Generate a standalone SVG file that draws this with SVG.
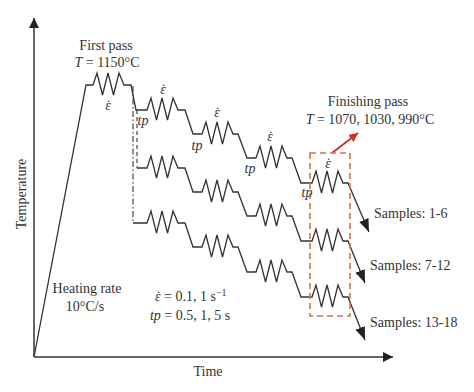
<svg xmlns="http://www.w3.org/2000/svg" width="474" height="392" viewBox="0 0 474 392">
<style>
text{font-family:"Liberation Serif","Times New Roman",serif;font-size:14px;fill:#333}
.it{font-style:italic}
.c{text-anchor:middle}
.curve{fill:none;stroke:#333;stroke-width:1.3;stroke-linejoin:miter}
.axis{fill:none;stroke:#333;stroke-width:1.5}
.dd{fill:none;stroke:#333;stroke-width:1.1;stroke-dasharray:6 2.5 1.5 2.5}
.dash{fill:none;stroke:#333;stroke-width:1.1;stroke-dasharray:4 3}
.box{fill:none;stroke:#d9704f;stroke-width:1.6;stroke-dasharray:6 4}
</style>
<defs>
<marker id="ah" markerUnits="userSpaceOnUse" markerWidth="14" markerHeight="10" refX="13" refY="5" orient="auto"><path d="M0,0 L13,5 L0,10 z" fill="#222"/></marker>
<marker id="axh" markerUnits="userSpaceOnUse" markerWidth="11" markerHeight="10" refX="10" refY="5" orient="auto"><path d="M0,0 L10,5 L0,10 z" fill="#222"/></marker>
<marker id="rh" markerUnits="userSpaceOnUse" markerWidth="10" markerHeight="9" refX="9" refY="4.5" orient="auto"><path d="M0,0 L9,4.5 L0,9 z" fill="#c8321e"/></marker>
</defs>
<rect width="474" height="392" fill="#fff"/>
<g id="axes">
<path class="axis" d="M34 357 L34 18" marker-end="url(#axh)"/>
<path class="axis" d="M34 357 L393 357" marker-end="url(#axh)"/>
<text transform="translate(26,194) rotate(-90)" class="c">Temperature</text>
<text x="208" y="376" class="c">Time</text>
</g>
<g id="connectors">
<path id="rowA" class="curve" marker-end="url(#ah)" d="M34 357 L86 85 L93 85 L97 73 L102.5 95 L108 73 L113.5 95 L119 73 L124 85 L131 85 L136 110 L147 110 L151 98 L156.5 120 L162 98 L167.5 120 L173 98 L178 110 L185 110 L193 134 L202 134 L206 122 L211.5 144 L217 122 L222.5 144 L228 122 L233 134 L238 134 L247 158 L256 158 L260 146 L265.5 168 L271 146 L276.5 168 L282 146 L287 158 L292 158 L301 183 L312 183 L316 171 L321.5 193 L327 171 L332.5 193 L338 171 L343 183 L348 183 L369 232"/>
<path class="dash" d="M137 110 L137 168"/>
<path id="rowB" class="curve" marker-end="url(#ah)" d="M137 168 L147 168 L151 156 L156.5 178 L162 156 L167.5 178 L173 156 L178 168 L185 168 L193 192 L202 192 L206 180 L211.5 202 L217 180 L222.5 202 L228 180 L233 192 L238 192 L247 216 L256 216 L260 204 L265.5 226 L271 204 L276.5 226 L282 204 L287 216 L292 216 L301 241 L312 241 L316 229 L321.5 251 L327 229 L332.5 251 L338 229 L343 241 L348 241 L365 283"/>
<path class="dd" d="M133 86 L133 223"/>
<path id="rowC" class="curve" marker-end="url(#ah)" d="M133 223 L147 223 L151 211 L156.5 233 L162 211 L167.5 233 L173 211 L178 223 L185 223 L193 247 L202 247 L206 235 L211.5 257 L217 235 L222.5 257 L228 235 L233 247 L238 247 L247 272 L256 272 L260 260 L265.5 282 L271 260 L276.5 282 L282 260 L287 272 L292 272 L301 297 L312 297 L316 285 L321.5 307 L327 285 L332.5 307 L338 285 L343 297 L348 297 L365 340"/>
<path d="M332 153 L358 133" fill="none" stroke="#c8321e" stroke-width="1.8" marker-end="url(#rh)"/>
</g>
<g id="finishing-box">
<rect class="box" x="310" y="153" width="40" height="163"/>
</g>
<g id="first-pass">
<text x="106" y="50" class="c">First pass</text>
<text x="107" y="67" class="c"><tspan class="it">T</tspan> = 1150°C</text>
<text x="108" y="110" class="c it">ε</text><text x="108.5" y="110" class="c">˙</text>
</g>
<g id="stage-labels">
<text x="163" y="94" class="c it">ε</text><text x="163.5" y="94" class="c">˙</text>
<text x="217" y="117" class="c it">ε</text><text x="217.5" y="117" class="c">˙</text>
<text x="270" y="141" class="c it">ε</text><text x="270.5" y="141" class="c">˙</text>
<text x="328" y="168" class="c it">ε</text><text x="328.5" y="168" class="c">˙</text>
<text x="143" y="125" class="c it">tp</text>
<text x="197" y="150" class="c it">tp</text>
<text x="250" y="173" class="c it">tp</text>
<text x="307" y="197" class="c it">tp</text>
</g>
<g id="finishing-pass">
<text x="368" y="106" class="c">Finishing pass</text>
<text x="370" y="124" class="c"><tspan class="it">T</tspan> = 1070, 1030, 990°C</text>
</g>
<g id="samples">
<text x="374" y="218">Samples: 1-6</text>
<text x="370" y="270">Samples: 7-12</text>
<text x="370" y="327">Samples: 13-18</text>
</g>
<g id="heating">
<text x="87" y="293" class="c">Heating rate</text>
<text x="85" y="311" class="c">10°C/s</text>
</g>
<g id="params">
<text x="155" y="301"><tspan class="it">ε</tspan> = 0.1, 1 s<tspan dy="-5" font-size="10">−1</tspan></text>
<text x="158.5" y="301" class="c">˙</text>
<text x="190" y="320" class="c"><tspan class="it">tp</tspan> = 0.5, 1, 5 s</text>
</g>
</svg>
